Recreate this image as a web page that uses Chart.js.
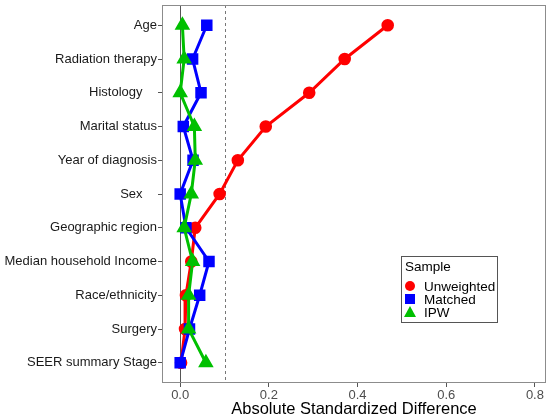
<!DOCTYPE html>
<html>
<head>
<meta charset="utf-8">
<script src="https://cdn.jsdelivr.net/npm/chart.js@4.4.1/dist/chart.umd.min.js"></script>
<style>
  html, body { margin: 0; padding: 0; background: #fff; }
  #wrap { width: 550px; height: 419px; position: relative; }
</style>
</head>
<body>
<div id="wrap"><canvas id="balanceChart"></canvas></div>
<script>
// Covariates, top to bottom (two labels carry trailing spaces in the original)
const covariates = [
    'Age', 'Radiation therapy', 'Histology    ', 'Marital status', 'Year of diagnosis', 'Sex    ',
    'Geographic region', 'Median household Income', 'Race/ethnicity', 'Surgery', 'SEER summary Stage'
];

// Absolute standardized differences
const unweighted = [0.468, 0.371, 0.291, 0.193, 0.130, 0.089, 0.034, 0.025, 0.013, 0.011, 0.002];
const matched    = [0.060, 0.028, 0.047, 0.007, 0.029, 0.000, 0.013, 0.065, 0.044, 0.021, 0.000];
const ipw        = [0.005, 0.009, 0.000, 0.032, 0.034, 0.025, 0.009, 0.028, 0.019, 0.019, 0.058];

const xTicks = [0, 0.2, 0.4, 0.6, 0.8];
const threshold = 0.1;

const FONT = '"Liberation Sans", Arial, sans-serif';

function toPoints(values) {
    return values.map((v, i) => ({ x: v, y: i }));
}

// Reference lines at 0 and at the 0.1 threshold, frame and legend
const refLines = {
    id: 'refLines',
    beforeDatasetsDraw(chart) {
        const { ctx, chartArea, scales } = chart;
        ctx.save();
        ctx.lineWidth = 1;
        ctx.strokeStyle = '#555';
        let px = Math.round(scales.x.getPixelForValue(0)) + 0.5;
        ctx.beginPath();
        ctx.moveTo(px, chartArea.top);
        ctx.lineTo(px, chartArea.bottom);
        ctx.stroke();
        ctx.strokeStyle = '#777';
        ctx.setLineDash([3, 3]);
        px = Math.round(scales.x.getPixelForValue(threshold)) + 0.5;
        ctx.beginPath();
        ctx.moveTo(px, chartArea.top);
        ctx.lineTo(px, chartArea.bottom);
        ctx.stroke();
        ctx.restore();
    },
    afterDraw(chart) {
        const { ctx, chartArea } = chart;
        ctx.save();
        ctx.strokeStyle = '#8c8c8c';
        ctx.lineWidth = 1;
        ctx.strokeRect(chartArea.left + 0.5, chartArea.top + 0.5,
            chartArea.right - chartArea.left - 1, chartArea.bottom - chartArea.top - 1);

        // Legend box inside the panel
        const bx = 401, by = 256, bw = 96, bh = 66;
        ctx.fillStyle = '#fff';
        ctx.fillRect(bx, by, bw, bh);
        ctx.strokeStyle = '#555';
        ctx.strokeRect(bx + 0.5, by + 0.5, bw, bh);
        ctx.fillStyle = '#000';
        ctx.font = '13.5px ' + FONT;
        ctx.textBaseline = 'middle';
        ctx.fillText('Sample', bx + 4, by + 11);
        const items = [
            { text: 'Unweighted', color: '#ff0000', shape: 'circle' },
            { text: 'Matched', color: '#0000ff', shape: 'square' },
            { text: 'IPW', color: '#00c000', shape: 'triangle' }
        ];
        items.forEach((it, i) => {
            const cy = by + 30 + i * 13;
            const cx = bx + 9;
            ctx.fillStyle = it.color;
            ctx.beginPath();
            if (it.shape === 'circle') {
                ctx.arc(cx, cy, 5, 0, Math.PI * 2);
            } else if (it.shape === 'square') {
                ctx.rect(cx - 5, cy - 5, 10, 10);
            } else {
                ctx.moveTo(cx, cy - 6);
                ctx.lineTo(cx + 6, cy + 5);
                ctx.lineTo(cx - 6, cy + 5);
                ctx.closePath();
            }
            ctx.fill();
            ctx.fillStyle = '#000';
            ctx.fillText(it.text, bx + 23, cy + 1);
        });
        ctx.restore();
    }
};

const ctx = document.getElementById('balanceChart').getContext('2d');
const balanceChart = new Chart(ctx, {
    type: 'line',
    data: {
        datasets: [
            {
                label: 'Unweighted',
                data: toPoints(unweighted),
                borderColor: '#ff0000',
                backgroundColor: '#ff0000',
                borderWidth: 3,
                pointStyle: 'circle',
                pointRadius: 4.8,
                order: 3
            },
            {
                label: 'Matched',
                data: toPoints(matched),
                borderColor: '#0000ff',
                backgroundColor: '#0000ff',
                borderWidth: 3,
                pointStyle: 'rect',
                pointRadius: 6,
                order: 2
            },
            {
                label: 'IPW',
                data: toPoints(ipw),
                borderColor: '#00c000',
                backgroundColor: '#00c000',
                borderWidth: 3,
                pointStyle: 'triangle',
                pointRadius: 6,
                order: 1
            }
        ]
    },
    options: {
        responsive: true,
        maintainAspectRatio: false,
        animation: false,
        layout: { autoPadding: false, padding: { top: 5, right: 4, left: 0, bottom: 0 } },
        plugins: {
            legend: { display: false },
            tooltip: { enabled: false }
        },
        elements: {
            line: { tension: 0 },
            point: { borderWidth: 0, hoverRadius: 5 }
        },
        scales: {
            x: {
                type: 'linear',
                min: -0.041,
                max: 0.825,
                afterBuildTicks: scale => { scale.ticks = xTicks.map(v => ({ value: v })); },
                afterFit: scale => { scale.height = 36; },
                border: { display: false },
                grid: { drawOnChartArea: false, tickLength: 4, color: '#555' },
                ticks: {
                    color: '#4d4d4d',
                    padding: 1,
                    font: { family: FONT, size: 13 },
                    callback: v => v.toFixed(1)
                },
                title: {
                    display: true,
                    text: 'Absolute Standardized Difference',
                    color: '#000',
                    padding: { top: 0, bottom: 0 },
                    font: { family: FONT, size: 16.5 }
                }
            },
            y: {
                type: 'linear',
                reverse: true,
                min: -0.6,
                max: covariates.length - 0.4,
                afterBuildTicks: scale => { scale.ticks = covariates.map((c, i) => ({ value: i })); },
                afterFit: scale => { scale.width = 162; },
                border: { display: false },
                grid: { drawOnChartArea: false, tickLength: 4, color: '#555' },
                ticks: {
                    color: '#1a1a1a',
                    padding: 1,
                    font: { family: FONT, size: 13, lineHeight: 0.2 },
                    callback: v => covariates[v]
                }
            }
        }
    },
    plugins: [refLines]
});
</script>
</body>
</html>
